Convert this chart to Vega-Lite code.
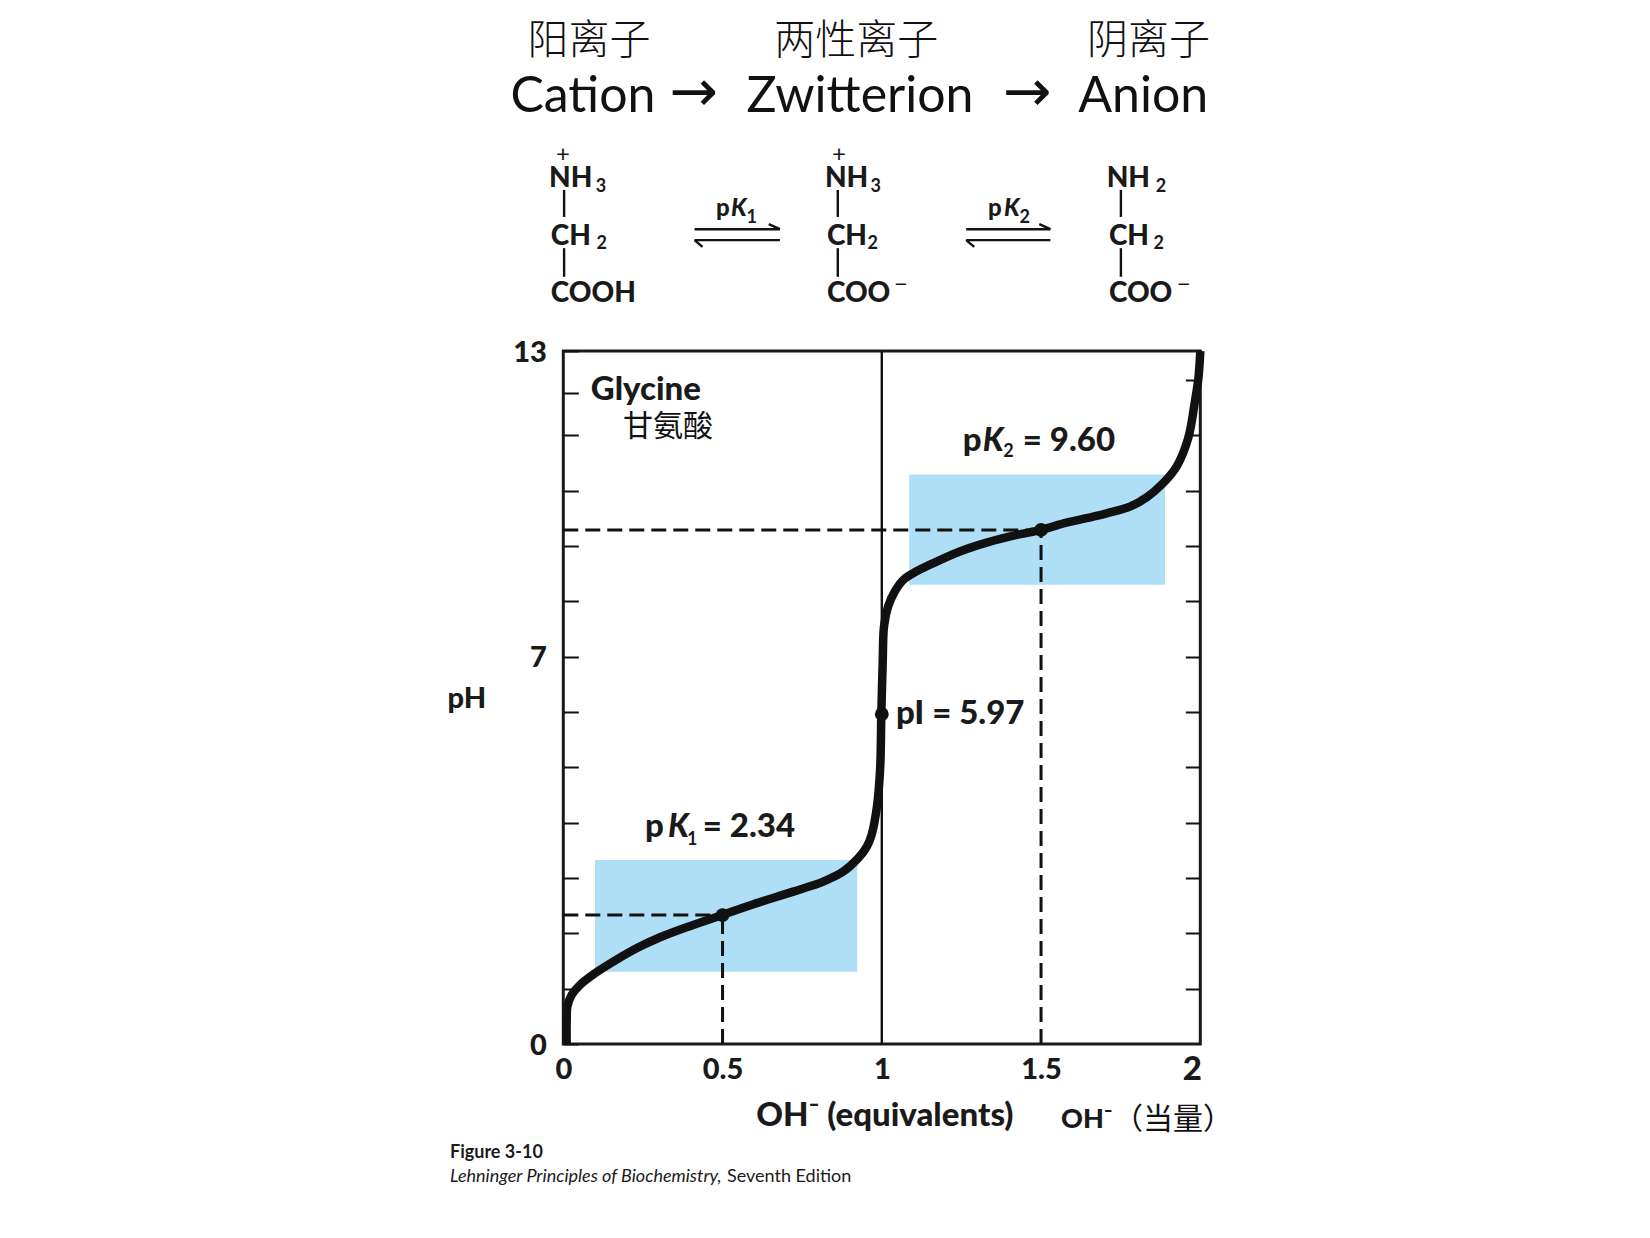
{
  "$schema": "https://vega.github.io/schema/vega-lite/v6.json",
  "width": 637,
  "height": 693,
  "autosize": {"type": "none"},
  "padding": {"left": 563.3, "top": 351, "right": 449.7, "bottom": 194},
  "background": "white",
  "view": {"stroke": "#1a1a1a", "strokeWidth": 3, "fill": null},
  "resolve": {"axis": {"x": "independent", "y": "independent"}},
  "datasets": {
    "buffer": [
      {"x": 0.0995, "x2": 0.923, "y": 1.307, "y2": 3.327},
      {"x": 1.086, "x2": 1.889, "y": 8.30, "y2": 10.29}
    ],
    "curve": [
      {"x": 0.0106, "y": 0}, {"x": 0.0106, "y": 0.434}, {"x": 0.0127, "y": 0.675}, {"x": 0.0263, "y": 0.886},
      {"x": 0.0524, "y": 1.067}, {"x": 0.0995, "y": 1.278}, {"x": 0.157, "y": 1.489}, {"x": 0.23, "y": 1.73},
      {"x": 0.304, "y": 1.929}, {"x": 0.387, "y": 2.11}, {"x": 0.499, "y": 2.33}, {"x": 0.597, "y": 2.526},
      {"x": 0.722, "y": 2.754}, {"x": 0.816, "y": 2.935}, {"x": 0.879, "y": 3.116}, {"x": 0.926, "y": 3.358},
      {"x": 0.953, "y": 3.568}, {"x": 0.968, "y": 3.78}, {"x": 0.985, "y": 4.3}, {"x": 0.995, "y": 5.0},
      {"x": 0.9985, "y": 5.96}, {"x": 1.003, "y": 6.94}, {"x": 1.007, "y": 7.55}, {"x": 1.02, "y": 7.91},
      {"x": 1.041, "y": 8.18}, {"x": 1.068, "y": 8.39}, {"x": 1.099, "y": 8.51}, {"x": 1.162, "y": 8.69},
      {"x": 1.245, "y": 8.90}, {"x": 1.329, "y": 9.06}, {"x": 1.424, "y": 9.2}, {"x": 1.5, "y": 9.29},
      {"x": 1.58, "y": 9.42}, {"x": 1.664, "y": 9.53}, {"x": 1.706, "y": 9.59}, {"x": 1.779, "y": 9.71},
      {"x": 1.832, "y": 9.88}, {"x": 1.884, "y": 10.14}, {"x": 1.926, "y": 10.44}, {"x": 1.962, "y": 10.95},
      {"x": 1.983, "y": 11.8}, {"x": 1.994, "y": 12.35}, {"x": 2.0, "y": 13}
    ],
    "dashes": [
      {"x": 0, "x2": 0.5, "y": 2.33, "y2": 2.33},
      {"x": 0.5, "x2": 0.5, "y": 0, "y2": 2.33},
      {"x": 0, "x2": 1.5, "y": 9.29, "y2": 9.29},
      {"x": 1.5, "x2": 1.5, "y": 0, "y2": 9.29}
    ],
    "solid": [
      {"x": 1, "x2": 1, "y": 0, "y2": 13},
      {"x": 0.0025, "x2": 0.0025, "y": 16.82, "y2": 16.18},
      {"x": 0.0025, "x2": 0.0025, "y": 15.44, "y2": 14.76},
      {"x": 0.8618, "x2": 0.8618, "y": 16.82, "y2": 16.18},
      {"x": 0.8618, "x2": 0.8618, "y": 15.44, "y2": 14.76},
      {"x": 1.7507, "x2": 1.7507, "y": 16.82, "y2": 16.18},
      {"x": 1.7507, "x2": 1.7507, "y": 15.44, "y2": 14.76},
      {"x": 0.4122, "x2": 0.68, "y": 15.89, "y2": 15.89},
      {"x": 0.645, "x2": 0.68, "y": 16.01, "y2": 15.89},
      {"x": 0.4122, "x2": 0.68, "y": 15.63, "y2": 15.63},
      {"x": 0.4122, "x2": 0.437, "y": 15.63, "y2": 15.47},
      {"x": 1.265, "x2": 1.5294, "y": 15.89, "y2": 15.89},
      {"x": 1.4944, "x2": 1.5294, "y": 16.01, "y2": 15.89},
      {"x": 1.265, "x2": 1.5294, "y": 15.63, "y2": 15.63},
      {"x": 1.265, "x2": 1.29, "y": 15.63, "y2": 15.47}
    ],
    "dots": [
      {"x": 0.5, "y": 2.33},
      {"x": 1, "y": 5.96},
      {"x": 1.5, "y": 9.29}
    ],
    "headCjk": [
      {"x": 0.0807, "y": 20.33, "label": "阳离子"},
      {"x": 0.92, "y": 20.33, "label": "两性离子"},
      {"x": 1.837, "y": 20.33, "label": "阴离子"}
    ],
    "headEn": [
      {"x": 0.0615, "y": 19.02, "label": "Cation"},
      {"x": 0.9316, "y": 19.02, "label": "Zwitterion"},
      {"x": 1.821, "y": 19.02, "label": "Anion"}
    ],
    "arrows": [
      {"x": 0.4088, "y": 19.1, "label": "→"},
      {"x": 1.456, "y": 19.1, "label": "→"}
    ],
    "chem": [
      {"x": -0.0449, "y": 17.09, "label": "NH"},
      {"x": -0.0392, "y": 15.7, "label": "CH"},
      {"x": -0.0392, "y": 14.35, "label": "COOH"},
      {"x": 0.8214, "y": 17.09, "label": "NH"},
      {"x": 0.8276, "y": 15.7, "label": "CH"},
      {"x": 0.8276, "y": 14.35, "label": "COO"},
      {"x": 1.706, "y": 17.09, "label": "NH"},
      {"x": 1.713, "y": 15.7, "label": "CH"},
      {"x": 1.713, "y": 14.35, "label": "COO"}
    ],
    "subs": [
      {"x": 0.1184, "y": 16.89, "label": "3"},
      {"x": 0.1206, "y": 15.54, "label": "2"},
      {"x": 0.9812, "y": 16.89, "label": "3"},
      {"x": 0.9718, "y": 15.54, "label": "2"},
      {"x": 1.8766, "y": 16.89, "label": "2"},
      {"x": 1.8697, "y": 15.54, "label": "2"},
      {"x": 0.5918, "y": 16.16, "label": "1"},
      {"x": 1.4487, "y": 16.16, "label": "2"},
      {"x": 0.405, "y": 3.68, "label": "1"},
      {"x": 1.3975, "y": 10.70, "label": "2"}
    ],
    "charges": [
      {"x": -0.001, "y": 17.65, "label": "+"},
      {"x": 0.8656, "y": 17.65, "label": "+"},
      {"x": 1.0603, "y": 14.57, "label": "−"},
      {"x": 1.948, "y": 14.57, "label": "−"}
    ],
    "pSmall": [
      {"x": 0.4794, "y": 16.37, "label": "p"},
      {"x": 1.3334, "y": 16.37, "label": "p"}
    ],
    "kSmall": [
      {"x": 0.5265, "y": 16.37, "label": "K"},
      {"x": 1.384, "y": 16.37, "label": "K"}
    ],
    "kBig": [
      {"x": 0.3287, "y": 3.92, "label": "K"},
      {"x": 1.3168, "y": 10.90, "label": "K"}
    ],
    "glycine": [{"x": 0.0864, "y": 12.07, "label": "Glycine"}],
    "boldText": [
      {"x": 0.2565, "y": 3.92, "label": "p"},
      {"x": 0.438, "y": 3.92, "label": "= 2.34"},
      {"x": 1.2543, "y": 10.90, "label": "p"},
      {"x": 1.4427, "y": 10.90, "label": "= 9.60"},
      {"x": 1.0446, "y": 5.97, "label": "pI = 5.97"},
      {"x": 1.945, "y": -0.47, "label": "2"}
    ],
    "ohCn": [{"x": 1.5626, "y": -1.38, "label": "OH⁻"}],
    "cjkText": [
      {"x": 0.1874, "y": 11.19, "label": "甘氨酸"},
      {"x": 1.726, "y": -1.38, "label": "（当量）"}
    ],
    "figureNo": [{"x": -0.3557, "y": -1.97, "label": "Figure 3-10"}],
    "bookTitle": [{"x": -0.3557, "y": -2.405, "label": "Lehninger Principles of Biochemistry,"}],
    "edition": [{"x": 0.514, "y": -2.405, "label": "Seventh Edition"}]
  },
  "encoding": {
    "x": {"field": "x", "type": "quantitative", "scale": {"domain": [0, 2], "nice": false, "zero": false}, "axis": null},
    "y": {"field": "y", "type": "quantitative", "scale": {"domain": [0, 11, 13], "range": [693, 84.3, 0], "nice": false, "zero": false}, "axis": null}
  },
  "layer": [
    {
      "data": {"name": "buffer"},
      "mark": {"type": "rect", "fill": "#aedff7"},
      "encoding": {
        "x": {
          "field": "x",
          "type": "quantitative",
          "axis": {
            "orient": "bottom",
            "values": [0, 0.5, 1, 1.5],
            "format": ".2~f",
            "grid": false,
            "domain": false,
            "ticks": false,
            "labelFont": "Lato",
            "labelFontWeight": 900,
            "labelFontSize": 29,
            "labelColor": "#1a1a1a",
            "labelPadding": 11,
            "labelFlush": false,
            "labelOverlap": false,
            "labelBound": false,
            "title": "OH⁻ (equivalents)",
            "titleFont": "Lato",
            "titleFontWeight": 900,
            "titleFontSize": 33,
            "titleColor": "#1a1a1a",
            "titleAlign": "center",
            "titleBaseline": "middle",
            "titleX": 321,
            "titleY": 71
          }
        },
        "x2": {"field": "x2"},
        "y": {
          "field": "y",
          "type": "quantitative",
          "axis": {
            "orient": "left",
            "values": [0, 1, 2, 3, 4, 5, 6, 7, 8, 9, 10, 11, 12, 13],
            "format": "d",
            "labelExpr": "datum.value == 0 || datum.value == 7 || datum.value == 13 ? datum.label : ''",
            "grid": false,
            "domain": false,
            "tickSize": -15,
            "tickWidth": 2,
            "tickColor": "#111111",
            "labelFont": "Lato",
            "labelFontWeight": 900,
            "labelFontSize": 29,
            "labelColor": "#1a1a1a",
            "labelPadding": 32,
            "labelOffset": 1,
            "labelOverlap": false,
            "labelBound": false,
            "title": "pH",
            "titleAngle": 0,
            "titleFont": "Lato",
            "titleFontWeight": 900,
            "titleFontSize": 29,
            "titleColor": "#1a1a1a",
            "titleAlign": "center",
            "titleBaseline": "middle",
            "titleX": -97,
            "titleY": 347
          }
        },
        "y2": {"field": "y2"}
      }
    },
    {
      "data": {"name": "dashes"},
      "mark": {"type": "rule", "stroke": "#111111", "strokeWidth": 3, "strokeDash": [15, 7]},
      "encoding": {"x2": {"field": "x2"}, "y2": {"field": "y2"}}
    },
    {
      "data": {"name": "solid"},
      "mark": {"type": "rule", "stroke": "#111111", "strokeWidth": 2.4},
      "encoding": {"x2": {"field": "x2"}, "y2": {"field": "y2"}}
    },
    {
      "data": {"name": "curve"},
      "mark": {"type": "line", "stroke": "#111111", "strokeWidth": 8.5, "interpolate": "catmull-rom"},
      "encoding": {
        "y": {
          "field": "y",
          "type": "quantitative",
          "axis": {
            "orient": "right",
            "values": [1, 2, 3, 4, 5, 6, 7, 8, 9, 10, 11, 12.32],
            "labels": false,
            "grid": false,
            "domain": false,
            "tickSize": -15,
            "tickWidth": 2,
            "tickColor": "#111111",
            "title": null
          }
        }
      }
    },
    {
      "data": {"name": "dots"},
      "mark": {"type": "point", "filled": true, "fill": "#111111", "stroke": null, "opacity": 1, "size": 190}
    },
    {
      "data": {"name": "headCjk"},
      "mark": {"type": "text", "font": "Noto Sans CJK SC", "fontWeight": 300, "fontSize": 41, "baseline": "middle", "align": "center", "fill": "#111111"},
      "encoding": {"text": {"field": "label"}}
    },
    {
      "data": {"name": "headEn"},
      "mark": {"type": "text", "font": "Lato", "fontSize": 50, "baseline": "middle", "align": "center", "fill": "#111111"},
      "encoding": {"text": {"field": "label"}}
    },
    {
      "data": {"name": "arrows"},
      "mark": {"type": "text", "font": "DejaVu Sans", "fontSize": 58, "baseline": "middle", "align": "center", "fill": "#111111"},
      "encoding": {"text": {"field": "label"}}
    },
    {
      "data": {"name": "chem"},
      "mark": {"type": "text", "font": "Lato", "fontWeight": 900, "fontSize": 28, "baseline": "middle", "align": "left", "fill": "#1a1a1a"},
      "encoding": {"text": {"field": "label"}}
    },
    {
      "data": {"name": "subs"},
      "mark": {"type": "text", "font": "Lato", "fontWeight": "bold", "fontSize": 18, "baseline": "middle", "align": "center", "fill": "#1a1a1a"},
      "encoding": {"text": {"field": "label"}}
    },
    {
      "data": {"name": "charges"},
      "mark": {"type": "text", "font": "Lato", "fontSize": 24, "baseline": "middle", "align": "center", "fill": "#1a1a1a"},
      "encoding": {"text": {"field": "label"}}
    },
    {
      "data": {"name": "pSmall"},
      "mark": {"type": "text", "font": "Lato", "fontWeight": 900, "fontSize": 24, "baseline": "middle", "align": "left", "fill": "#1a1a1a"},
      "encoding": {"text": {"field": "label"}}
    },
    {
      "data": {"name": "kSmall"},
      "mark": {"type": "text", "font": "Lato", "fontWeight": 900, "fontStyle": "italic", "fontSize": 24, "baseline": "middle", "align": "left", "fill": "#1a1a1a"},
      "encoding": {"text": {"field": "label"}}
    },
    {
      "data": {"name": "kBig"},
      "mark": {"type": "text", "font": "Lato", "fontWeight": 900, "fontStyle": "italic", "fontSize": 32, "baseline": "middle", "align": "left", "fill": "#1a1a1a"},
      "encoding": {"text": {"field": "label"}}
    },
    {
      "data": {"name": "glycine"},
      "mark": {"type": "text", "font": "Lato", "fontWeight": 900, "fontSize": 33, "baseline": "middle", "align": "left", "fill": "#1a1a1a"},
      "encoding": {"text": {"field": "label"}}
    },
    {
      "data": {"name": "boldText"},
      "mark": {"type": "text", "font": "Lato", "fontWeight": 900, "fontSize": 33, "baseline": "middle", "align": "left", "fill": "#1a1a1a"},
      "encoding": {"text": {"field": "label"}}
    },
    {
      "data": {"name": "ohCn"},
      "mark": {"type": "text", "font": "Lato", "fontWeight": 900, "fontSize": 27, "baseline": "middle", "align": "left", "fill": "#1a1a1a"},
      "encoding": {"text": {"field": "label"}}
    },
    {
      "data": {"name": "cjkText"},
      "mark": {"type": "text", "font": "Noto Sans CJK SC", "fontSize": 30, "baseline": "middle", "align": "left", "fill": "#111111"},
      "encoding": {"text": {"field": "label"}}
    },
    {
      "data": {"name": "figureNo"},
      "mark": {"type": "text", "font": "Lato", "fontWeight": "bold", "fontSize": 18, "baseline": "middle", "align": "left", "fill": "#1a1a1a"},
      "encoding": {"text": {"field": "label"}}
    },
    {
      "data": {"name": "bookTitle"},
      "mark": {"type": "text", "font": "Lato", "fontStyle": "italic", "fontSize": 18, "baseline": "middle", "align": "left", "fill": "#1a1a1a"},
      "encoding": {"text": {"field": "label"}}
    },
    {
      "data": {"name": "edition"},
      "mark": {"type": "text", "font": "Lato", "fontSize": 18, "baseline": "middle", "align": "left", "fill": "#1a1a1a"},
      "encoding": {"text": {"field": "label"}}
    }
  ]
}
